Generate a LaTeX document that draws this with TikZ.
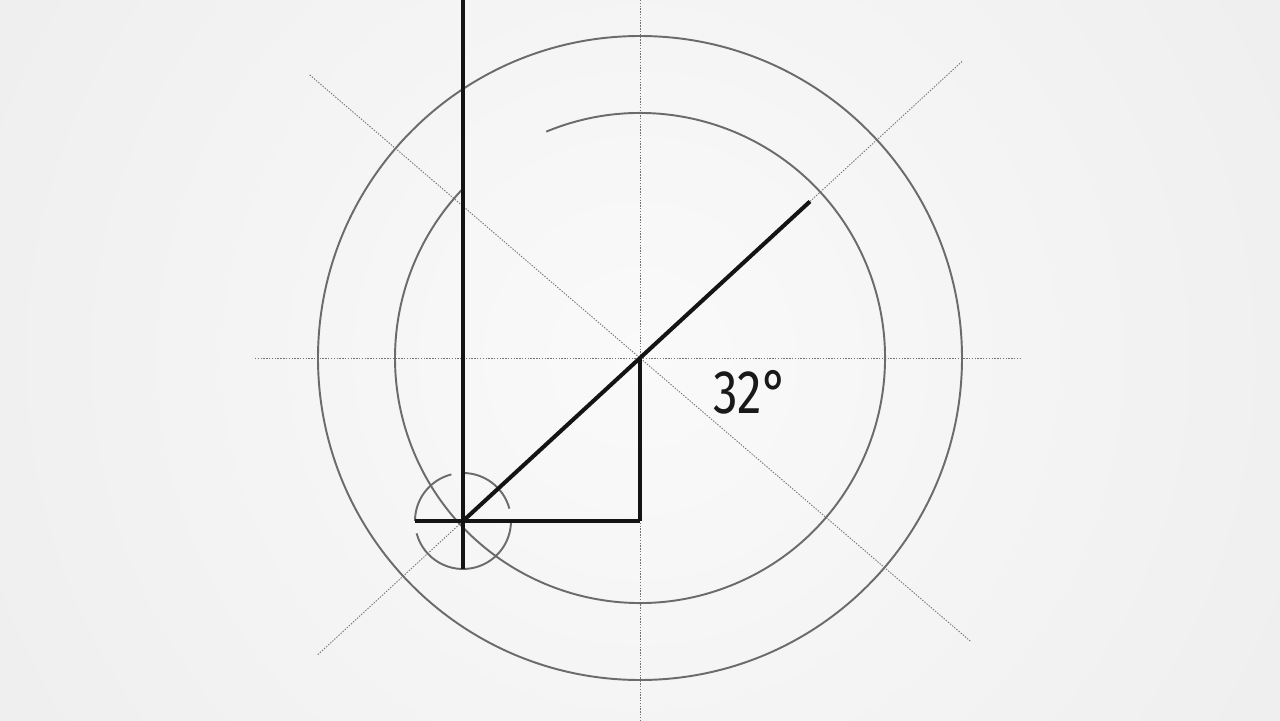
\documentclass[tikz,border=0pt]{standalone}
\usepackage{fontspec}
\setsansfont{Fira Sans}
\usepackage{tikz}
\usetikzlibrary{calc}

\begin{document}
\begin{tikzpicture}[x=0.02cm,y=0.02cm,
  guide/.style={black!55,line width=0.5pt,dash pattern=on 0.8pt off 0.8pt},
  ring/.style={black!58,line width=1.1pt},
  bold/.style={black!92,line width=2.3pt}]
\useasboundingbox (-640,-362) rectangle (640,358);
\begin{scope}
\clip (-640,-362) rectangle (640,358);
\shade[inner color=black!2,outer color=black!11] (0,0) circle (1500);
\end{scope}
\coordinate (O) at (0,0);
\coordinate (A) at (-177,-163);
\coordinate (vt) at (0,358);
\coordinate (vb) at (0,-362);
\coordinate (hl) at (-385,0);
\coordinate (hr) at (382,0);
\coordinate (d1) at (-40.6:435);
\coordinate (d2) at (139.4:435);
\coordinate (e1) at ($(O)!-1.82!(A)$);
\coordinate (e2) at ($(O)!1.82!(A)$);
\coordinate (top) at (-177,358);
\coordinate (bot) at ($(A)+(0,-48)$);
\coordinate (left) at ($(A)+(-48,0)$);
\coordinate (foot) at ($(A)+(177,0)$);
\coordinate (tip) at ($(O)!-0.96!(A)$);
% guide lines
\draw[guide] (vt) -- (vb);
\draw[guide] (hl) -- (hr);
\draw[guide] (d2) -- (d1);
\draw[guide] (e2) -- (e1);
% circles
\draw[ring] (O) circle (322);
\draw[ring] (O) ++(112.5:245) arc[start angle=112.5,end angle=-223.75,radius=245];
\draw[ring] (A) ++(15:48) arc[start angle=15,end angle=90,radius=48];
\draw[ring] (A) ++(104:48) arc[start angle=104,end angle=180,radius=48];
\draw[ring] (A) ++(195:48) arc[start angle=195,end angle=360,radius=48];
% triangle
\draw[bold] (top) -- (bot);
\draw[bold] (left) -- (foot);
\draw[bold] (foot) -- (O);
\draw[bold] (A) -- (tip);
\node[text=black!90] (ang) at (111,-34) {\sffamily\fontsize{35}{35}\selectfont\scalebox{0.8}[1]{32°}};
\end{tikzpicture}
\end{document}
